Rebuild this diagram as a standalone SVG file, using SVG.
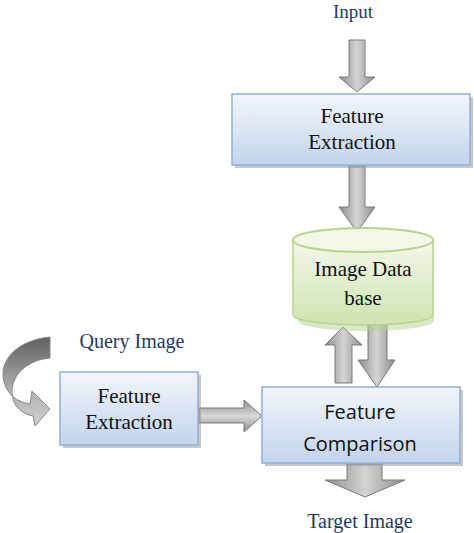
<svg xmlns="http://www.w3.org/2000/svg" width="474" height="533" viewBox="0 0 474 533">
<defs>
<linearGradient id="boxg" x1="0" y1="0" x2="0" y2="1">
<stop offset="0" stop-color="#f3f6fb"/>
<stop offset="1" stop-color="#c3d4ec"/>
</linearGradient>
<linearGradient id="cylg" x1="0" y1="0" x2="0" y2="1">
<stop offset="0" stop-color="#f3f8ea"/>
<stop offset="1" stop-color="#cfe3b0"/>
</linearGradient>
<linearGradient id="av" x1="0" y1="0" x2="1" y2="0">
<stop offset="0" stop-color="#8c8c8c"/>
<stop offset="0.5" stop-color="#d4d4d4"/>
<stop offset="1" stop-color="#8c8c8c"/>
</linearGradient>
<linearGradient id="ah" x1="0" y1="0" x2="0" y2="1">
<stop offset="0" stop-color="#8c8c8c"/>
<stop offset="0.5" stop-color="#d8d8d8"/>
<stop offset="1" stop-color="#8c8c8c"/>
</linearGradient>
<linearGradient id="acurve" x1="0" y1="0" x2="0" y2="1">
<stop offset="0" stop-color="#5f5f5f"/>
<stop offset="0.6" stop-color="#b0b0b0"/>
<stop offset="1" stop-color="#d0d0d0"/>
</linearGradient>
</defs>
<style>
.box{fill:url(#boxg);stroke:#8fb0da;stroke-width:1.5}
.shadow{fill:#9a9a9a;opacity:0.55}
.arrv{fill:url(#av);stroke:#7a7a7a;stroke-width:1}
.arrh{fill:url(#ah);stroke:#7a7a7a;stroke-width:1}
.serif{font-family:"Liberation Serif","Times New Roman",serif;font-size:21px;fill:#111;text-anchor:middle}
.label{font-family:"Liberation Serif","Times New Roman",serif;font-size:20px;fill:#1f3a60;text-anchor:middle}
.sans{font-family:"Open Sans","Liberation Sans",sans-serif;font-size:20px;font-weight:500;fill:#111;text-anchor:middle}
</style>
<rect width="474" height="533" fill="#ffffff"/>

<g id="connectors">
<path class="arrv" d="M349,40 L365,40 L365,77 L375,77 L357,92 L339,77 L349,77 Z"/>
<path class="arrv" d="M349,166 L365,166 L365,207 L375,207 L357,232 L339,207 L349,207 Z"/>
<path class="arrv" d="M335,383 L352,383 L352,345 L362,345 L343,327 L325,345 L335,345 Z"/>
<path class="arrv" d="M368,322 L387,322 L387,360 L395,360 L377,387 L358,360 L368,360 Z"/>
<path class="arrv" d="M347,464 L382,464 L382,480 L405,480 L365,497 L325,480 L347,480 Z"/>
<path class="arrh" d="M199,408 L244,408 L244,400 L262,416 L244,432 L244,423 L199,423 Z"/>
<path fill="url(#acurve)" stroke="#8a8a8a" stroke-width="1" d="M50,337 C18,340 -2,360 4,382 C8,396 18,402 30,404 L32,391 L50,409 L35,426 L33,416 C22,414 12,406 12,392 C12,374 28,360 50,358 Z"/>
</g>

<g id="label-input"><text class="label" x="353" y="18" style="font-size:19px">Input</text></g>

<g id="feature-extraction-top">
<rect class="shadow" x="235" y="97" width="238" height="71"/>
<rect class="box" x="232" y="94" width="238" height="71"/>
<text class="serif" x="352" y="123">Feature</text>
<text class="serif" x="352" y="149">Extraction</text>
</g>

<g id="image-database">
<path d="M296,244 L296,318 A68,10 0 0 0 432,318 L432,244 Z" fill="#b7cf96" opacity="0.5" transform="translate(2,3)"/>
<path d="M293,240 L293,315 A70,10 0 0 0 433,315 L433,240 Z" fill="url(#cylg)" stroke="#b9d28e" stroke-width="1.5"/>
<ellipse cx="363" cy="240" rx="70" ry="12" fill="#f2f7e8" stroke="#b9d28e" stroke-width="2"/>
<text class="serif" x="363" y="276">Image Data</text>
<text class="serif" x="363" y="305">base</text>
</g>

<g id="label-query"><text class="label" x="132" y="348">Query Image</text></g>

<g id="feature-extraction-left">
<rect class="shadow" x="63" y="375" width="138" height="73"/>
<rect class="box" x="60" y="372" width="138" height="73"/>
<text class="serif" x="129" y="403">Feature</text>
<text class="serif" x="129" y="429">Extraction</text>
</g>

<g id="feature-comparison">
<rect class="shadow" x="265" y="390" width="198" height="76"/>
<rect class="box" x="262" y="387" width="198" height="76"/>
<text class="sans" x="360" y="419">Feature</text>
<text class="sans" x="360" y="451">Comparison</text>
</g>

<g id="label-target"><text class="label" x="360" y="528">Target Image</text></g>
</svg>
